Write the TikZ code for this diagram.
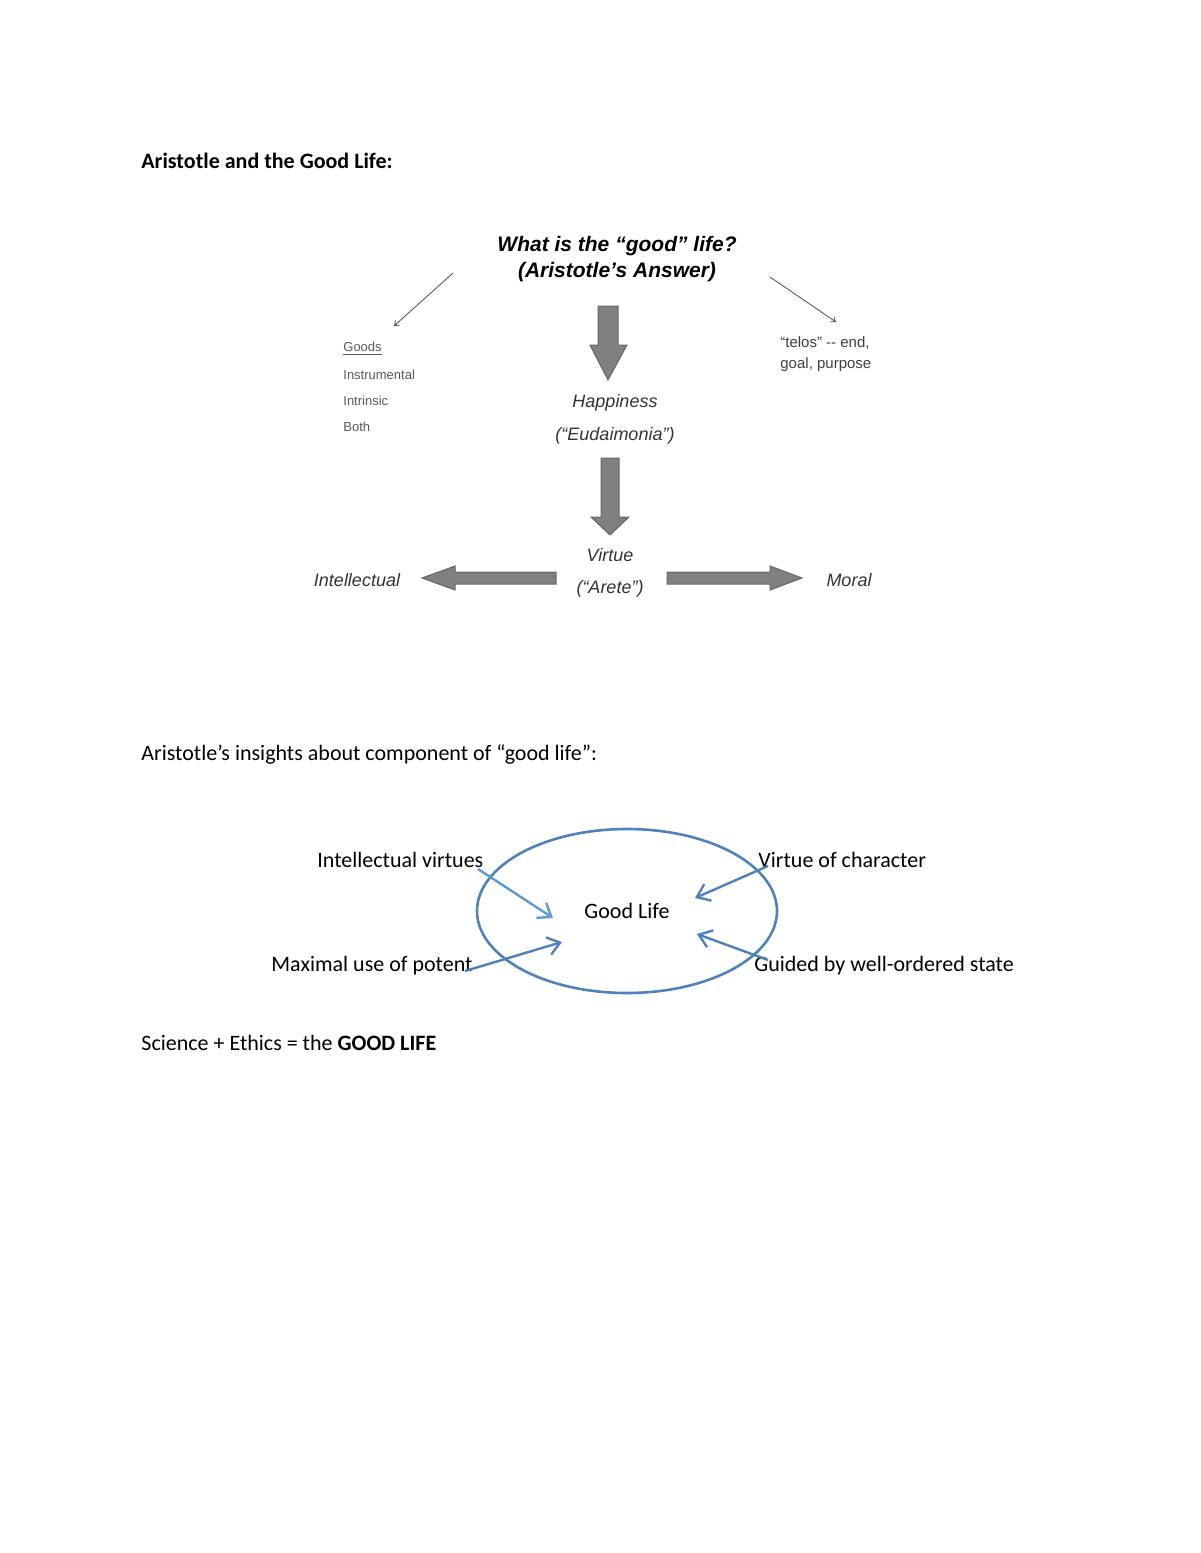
\documentclass[tikz,border=0pt]{standalone}
\usepackage{fontspec}
\setmainfont{Carlito}
\newfontfamily\arialf{Liberation Sans}
\usetikzlibrary{arrows.meta,shapes.geometric}
\definecolor{blk}{RGB}{79,129,189}
\definecolor{lblue}{RGB}{91,155,213}
\definecolor{agray}{RGB}{128,128,128}
\tikzset{
  body/.style={anchor=west, inner sep=0pt, font=\fontsize{11}{13}\selectfont},
  sketch/.style={inner sep=0pt, text=black!80, font=\arialf\fontsize{9}{11}\selectfont\itshape},
  small/.style={anchor=west, inner sep=0pt, text=black!65, font=\arialf\fontsize{6.5}{8}\selectfont},
  thin/.style={black!70, line width=0.4pt, -{Straight Barb[length=2pt,width=3pt]}},
  blockarrow/.style={fill=agray, draw=black!60, line width=0.5pt},
  spoke/.style={blk, line width=1.2pt, -{Straight Barb[length=6pt,width=9pt]}}
}
\begin{document}
\begin{tikzpicture}[x=0.5pt, y=-0.5pt]
\useasboundingbox (0,0) rectangle (1200,1553);

\node[body, font=\fontsize{11}{13}\selectfont\bfseries] (head) at (141,161) {Aristotle and the Good Life:};

% what is the good life
\node[sketch, font=\arialf\fontsize{10.5}{12}\selectfont\bfseries\itshape, text=black] (q1) at (617,246) {What is the “good” life?};
\node[sketch, font=\arialf\fontsize{10.5}{12}\selectfont\bfseries\itshape, text=black] (q2) at (617,272) {(Aristotle’s Answer)};
\coordinate (lfrom) at (453,273);
\coordinate (lto) at (394,326);
\coordinate (rfrom) at (770,277);
\coordinate (rto) at (836,322);
\draw[thin] (lfrom) -- (lto);
\draw[thin] (rfrom) -- (rto);

\node[small] (goods) at (343,349) {\underline{Goods}};
\node[small] (instr) at (343,375) {Instrumental};
\node[small] (intr) at (343,401) {Intrinsic};
\node[small] (both) at (343,427) {Both};
\node[small, text=black!75, font=\arialf\fontsize{7.5}{10.5}\selectfont, align=left] (telos) at (780,354) {“telos” -- end,\\goal, purpose};

\draw[blockarrow] (598,306) -- (618,306) -- (618,345) -- (627,345) -- (608,380) -- (590,345) -- (598,345) -- cycle;
\node[sketch] (happy) at (615,403) {Happiness};
\node[sketch] (eud) at (615,436) {(“Eudaimonia”)};
\draw[blockarrow] (601,458) -- (619,458) -- (619,517) -- (629,517) -- (610,535) -- (591,517) -- (601,517) -- cycle;
\node[sketch] (virtue) at (610,555) {Virtue};
\node[sketch] (arete) at (610,589) {(“Arete”)};
\draw[blockarrow] (556,572) -- (455,572) -- (455,566) -- (422,578) -- (455,590) -- (455,584) -- (556,584) -- cycle;
\draw[blockarrow] (667,572) -- (770,572) -- (770,566) -- (802,578) -- (770,590) -- (770,584) -- (667,584) -- cycle;
\node[sketch] (intel) at (357,580) {Intellectual};
\node[sketch] (moral) at (849,580) {Moral};

% components of the good life
\node[body] (ins) at (141,754) {Aristotle’s insights about component of “good life”:};
\node[draw=blk, line width=1.3pt, ellipse, minimum width=150, minimum height=82, inner sep=0pt, font=\fontsize{11}{13}\selectfont] (gl) at (627,911) {Good Life};
\node[body] (iv) at (317,860) {Intellectual virtues};
\node[body] (vc) at (758,860) {Virtue of character};
\node[body] (mu) at (271,966) {Maximal use of potent};
\node[body] (gw) at (754,966) {Guided by well-ordered state};
\coordinate (ivend) at (478,869);
\coordinate (vcend) at (768,866);
\coordinate (muend) at (465,971);
\coordinate (gwend) at (768,960);
\draw[spoke, lblue] (ivend) -- (553,918);
\draw[spoke] (vcend) -- (695,898);
\draw[spoke] (muend) -- (562,942);
\draw[spoke] (gwend) -- (697,934);

\node[body] (sci) at (141,1043) {Science + Ethics = the \textbf{GOOD LIFE}};
\end{tikzpicture}
\end{document}
